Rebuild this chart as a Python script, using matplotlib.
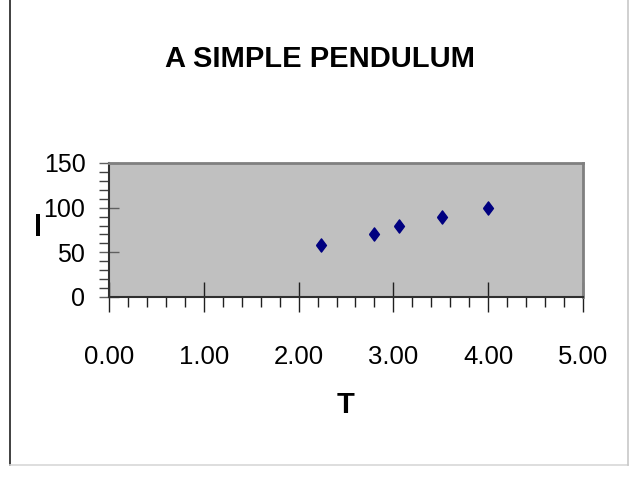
import matplotlib.pyplot as plt
from matplotlib.lines import Line2D
from matplotlib.ticker import MultipleLocator, FormatStrFormatter

# data
period_T = [2.24, 2.80, 3.06, 3.51, 4.00]
length_l = [58, 70, 79, 90, 100]
x_ticks = [0, 1, 2, 3, 4, 5]
y_ticks = [0, 50, 100, 150]

plt.rcParams['font.family'] = ['Liberation Sans', 'DejaVu Sans']

W, H = 640, 479
fig = plt.figure(figsize=(W / 100, H / 100), dpi=100)
fig.patch.set_facecolor('white')

def px(x0, y0, x1, y1):
    return [x0 / W, 1 - y1 / H, (x1 - x0) / W, (y1 - y0) / H]

ax = fig.add_axes(px(109, 163, 583, 297))
ax.set_facecolor('#C0C0C0')

diamond = [(-0.75, 0), (0, 1), (0.75, 0), (0, -1), (-0.75, 0)]
ax.plot(period_T, length_l, linestyle='none', marker=diamond, markersize=9.5,
        color='#000080', markeredgecolor='#000080')

ax.set_xlim(0, 5)
ax.set_ylim(0, 150)
ax.set_xticks(x_ticks)
ax.set_yticks(y_ticks)
ax.xaxis.set_major_formatter(FormatStrFormatter('%.2f'))
ax.xaxis.set_minor_locator(MultipleLocator(0.2))
ax.yaxis.set_minor_locator(MultipleLocator(10))

ax.tick_params(axis='x', which='major', direction='inout', length=21, width=1,
               color='#202020', labelsize=18.5, pad=24)
ax.tick_params(axis='x', which='minor', direction='out', length=7, width=1, color='#202020')
ax.tick_params(axis='y', which='major', direction='inout', length=14, width=1,
               color='#606060', labelsize=18, pad=10)
ax.tick_params(axis='y', which='minor', direction='out', length=7, width=1, color='#404040')

for side in ['top', 'right']:
    ax.spines[side].set_color('#808080')
    ax.spines[side].set_linewidth(2)
for side in ['left', 'bottom']:
    ax.spines[side].set_color('#303030')
    ax.spines[side].set_linewidth(1.5)

fig.text(320 / W, 1 - 59 / H, 'A SIMPLE PENDULUM', ha='center', va='center',
         fontsize=21, fontweight='bold')
fig.text(346 / W, 1 - 405 / H, 'T', ha='center', va='center', fontsize=21, fontweight='bold')
fig.text(38 / W, 1 - 228 / H, 'l', ha='center', va='center', fontsize=21, fontweight='bold')

# chart frame
fig.add_artist(Line2D([10 / W, 10 / W], [1, 1 - 465 / H], transform=fig.transFigure,
                      color='#202020', lw=1.2))
fig.add_artist(Line2D([10 / W, 628 / W], [1 - 465 / H, 1 - 465 / H], transform=fig.transFigure,
                      color='#d8d8d8', lw=1.2))
fig.add_artist(Line2D([628 / W, 628 / W], [1, 1 - 465 / H], transform=fig.transFigure,
                      color='#c8c8c8', lw=1.2))

fig.savefig('out.png', dpi=100)
